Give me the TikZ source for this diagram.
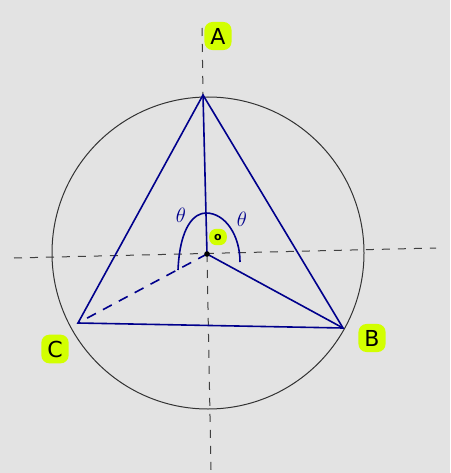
\documentclass[tikz,border=0pt]{standalone}
\usepackage{fontspec}
\setmainfont{DejaVu Sans}
\begin{document}
\begin{tikzpicture}[x=1pt,y=-1pt,
  axis/.style={black!75,dashed,dash pattern=on 8pt off 8pt,line width=1pt},
  tri/.style={draw=blue!55!black,line width=1.6pt},
  lab/.style={fill=lime!70!yellow,rounded corners=8pt,inner sep=6pt,font=\fontsize{22}{24}\selectfont,text=black},
  olab/.style={fill=lime!70!yellow,rounded corners=7pt,inner sep=5pt,font=\fontsize{11}{12}\selectfont\bfseries,text=black},
  th/.style={text=blue!55!black,font=\fontsize{20}{22}\selectfont}]
\fill[gray!22] (0,0) rectangle (450,473);
\useasboundingbox (0,0) rectangle (450,473);
% key points
\coordinate (O) at (207,254);
\coordinate (A) at (203,95);
\coordinate (B) at (343,328);
\coordinate (C) at (78,323);
% axes
\coordinate (VT) at (202,28);
\coordinate (VB) at (211,470);
\coordinate (HL) at (14,258);
\coordinate (HR) at (436,248);
\draw[axis] (VT) -- (A);
\draw[axis] (O) -- (VB);
\draw[axis] (HL) -- (HR);
% circle
\draw[black!80,line width=1pt] (208,253) circle (156);
% triangle
\draw[tri] (A) -- (B) -- (C) -- cycle;
\draw[tri] (A) -- (O) -- (B);
\draw[tri,dashed,dash pattern=on 10pt off 8pt] (O) -- (C);
\fill[black] (O) circle (2.8);
% angle arch
\draw[tri] (178,270) .. controls (180,225) and (195,213) .. (206,213)
           .. controls (225,213) and (240,235) .. (240,262);
\node[th] (t1) at (181,215) {$\theta$};
\node[th] (t2) at (242,219) {$\theta$};
\node[olab] (ol) at (218,237) {o};
% labels
\node[lab] (la) at (218,36) {A};
\node[lab] (lb) at (372,338) {B};
\node[lab] (lc) at (55,349) {C};
\end{tikzpicture}
\end{document}
